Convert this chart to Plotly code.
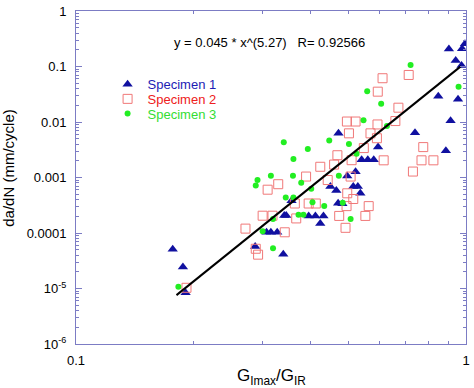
import plotly.graph_objects as go

# Specimen 1 (blue filled triangles)
s1_x = [0.177, 0.188, 0.191, 0.288, 0.340, 0.308, 0.316, 0.328, 0.342, 0.346,
        0.357, 0.395, 0.411, 0.431, 0.423, 0.470, 0.482, 0.449, 0.465, 0.514,
        0.528, 0.536, 0.496, 0.521, 0.540, 0.560, 0.580, 0.595, 0.471, 0.740,
        0.888, 0.913, 0.849, 0.954, 0.941, 0.974, 0.904, 0.977, 0.994]
s1_y = [5.1e-5, 2.43e-5, 8.4e-6, 5.71e-5, 4.12e-5, 1.03e-4, 1.03e-4, 1.03e-4, 2.07e-4, 2.07e-4,
        3.82e-4, 2.03e-4, 2.03e-4, 2.03e-4, 1.48e-4, 3.44e-4, 3.37e-4, 6.9e-4, 5.86e-4, 6.9e-4,
        6.9e-4, 5.19e-4, 1.06e-3, 1.27e-3, 2.08e-3, 2.08e-3, 2.08e-3, 3.53e-3, 6.25e-3, 6.38e-3,
        3.04e-3, 1.05e-2, 2.92e-2, 2.56e-2, 0.128, 0.1046, 0.207, 0.209, 0.257]

# Specimen 2 (red open squares)
s2_x = [0.192, 0.272, 0.289, 0.293, 0.301, 0.319, 0.343, 0.367, 0.364, 0.395,
        0.412, 0.310, 0.330, 0.389, 0.442, 0.423, 0.459, 0.468, 0.473, 0.491,
        0.494, 0.496, 0.514, 0.506, 0.509, 0.547, 0.552, 0.563, 0.501, 0.569,
        0.591, 0.495, 0.521, 0.593, 0.659, 0.594, 0.611, 0.671, 0.713, 0.615,
        0.731, 0.769, 0.825, 0.777]
s2_y = [1.03e-5, 1.2e-4, 5.2e-5, 4.07e-5, 2.05e-4, 2.05e-4, 1.03e-4, 1.83e-4, 3.4e-4, 3.4e-4,
        3.4e-4, 6.03e-4, 7.57e-4, 1.04e-3, 9.0e-4, 1.56e-3, 1.71e-3, 2.52e-3, 2.03e-4, 1.24e-4,
        3.05e-4, 5.19e-4, 4.1e-4, 1.04e-3, 2.05e-3, 3.39e-3, 2.03e-4, 3.05e-4, 6.25e-3, 6.25e-3,
        5.1e-3, 1.02e-2, 1.02e-2, 9.03e-3, 1.04e-2, 3.52e-2, 6.15e-2, 1.81e-2, 7.04e-2, 2.04e-3,
        1.28e-3, 2.04e-3, 2.04e-3, 3.53e-3]

# Specimen 3 (green filled circles)
s3_x = [0.183, 0.301, 0.320, 0.320, 0.372, 0.383, 0.345, 0.361, 0.404, 0.433,
        0.483, 0.506, 0.289, 0.292, 0.316, 0.360, 0.378, 0.401, 0.472, 0.361,
        0.341, 0.393, 0.446, 0.501, 0.524, 0.546, 0.627, 0.606, 0.558, 0.721,
        0.957]
s3_y = [1.07e-5, 1.08e-4, 5.33e-5, 1.79e-4, 2.14e-4, 2.14e-4, 4.35e-4, 4.35e-4, 3.59e-4, 3.05e-4,
        3.52e-4, 1.79e-4, 7.18e-4, 9.06e-4, 1.07e-3, 1.08e-3, 8.05e-4, 6.28e-4, 1.08e-3, 2.16e-3,
        4.33e-3, 3.25e-3, 4.64e-3, 4.02e-3, 2.69e-3, 1.08e-2, 8.5e-3, 2.13e-2, 3.57e-2, 0.106,
        4.31e-2]

# Fit line as drawn
fit_x = [0.181, 0.971]
fit_y = [7.6e-6, 0.1016]

fit_label = "y = 0.045 * x^(5.27)   R= 0.92566"
y_tickvals = [1e-6, 1e-5, 1e-4, 1e-3, 1e-2, 1e-1, 1]
y_ticktext = ["10<sup>-6</sup>", "10<sup>-5</sup>", "0.0001", "0.001", "0.01", "0.1", "1"]
x_tickvals = [0.1, 1]
x_ticktext = ["0.1", "1"]

FONT = "Liberation Sans, Arial, Helvetica, sans-serif"
AXC = "#7c7cc4"

fig = go.Figure()
fig.add_trace(go.Scatter(
    x=s1_x, y=s1_y, mode="markers", legend="legend",
    name="<span style='color:#1c1cb4'>Specimen 1</span>",
    marker=dict(symbol="triangle-up", size=9, color="#1010a0")))
fig.add_trace(go.Scatter(
    x=s2_x, y=s2_y, mode="markers", legend="legend2",
    name="<span style='color:#ee2020'>Specimen 2</span>",
    marker=dict(symbol="square-open", size=9, color="#f07878", line=dict(width=1))))
fig.add_trace(go.Scatter(
    x=s3_x, y=s3_y, mode="markers", legend="legend3",
    name="<span style='color:#33dd33'>Specimen 3</span>",
    marker=dict(symbol="circle", size=6, color="#22ee22")))
fig.add_trace(go.Scatter(
    x=fit_x, y=fit_y, mode="lines", showlegend=False,
    line=dict(color="black", width=2)))

axis_common = dict(
    type="log", showline=True, linecolor=AXC, linewidth=1, mirror="allticks",
    ticks="inside", ticklen=6, tickcolor=AXC, showgrid=False, zeroline=False,
    tickmode="array", tickfont=dict(family=FONT, size=13, color="black"),
    ticklabeloverflow="allow",
    minor=dict(ticks="inside", ticklen=3, tickcolor=AXC, dtick="D1", showgrid=False),
)

fig.update_xaxes(range=[-1, 0], tickvals=x_tickvals, ticktext=x_ticktext,
                 ticklabelstandoff=4, **axis_common)
fig.update_yaxes(range=[-6, 0], tickvals=y_tickvals, ticktext=y_ticktext,
                 ticklabelstandoff=6, **axis_common)

fig.add_annotation(text=fit_label, xref="paper", yref="paper", x=0.495, y=0.934,
                   showarrow=False, font=dict(family=FONT, size=13, color="black"))
fig.add_annotation(text="G<sub>Imax</sub>/G<sub>IR</sub>", xref="paper", yref="paper",
                   x=0.5, y=-0.098, yanchor="middle", showarrow=False,
                   font=dict(family=FONT, size=17, color="black"))
fig.add_annotation(text="da/dN (mm/cycle)", xref="paper", yref="paper",
                   x=-0.172, y=0.529, textangle=-90, xanchor="center", yanchor="middle",
                   showarrow=False, font=dict(family=FONT, size=15, color="black"))

leg_common = dict(x=0.081, xanchor="left", yanchor="middle",
                  bgcolor="rgba(0,0,0,0)", font=dict(family=FONT, size=13),
                  borderwidth=0)
fig.update_layout(
    width=474, height=388,
    margin=dict(l=76, r=4, t=6, b=44),
    paper_bgcolor="white", plot_bgcolor="white",
    font=dict(family=FONT, size=13),
    legend=dict(y=0.780, **leg_common),
    legend2=dict(y=0.736, **leg_common),
    legend3=dict(y=0.692, **leg_common),
)

fig.write_html("out.html", config={"displayModeBar": False},
               post_script="document.body.style.margin='0';document.body.style.overflow='hidden';")
